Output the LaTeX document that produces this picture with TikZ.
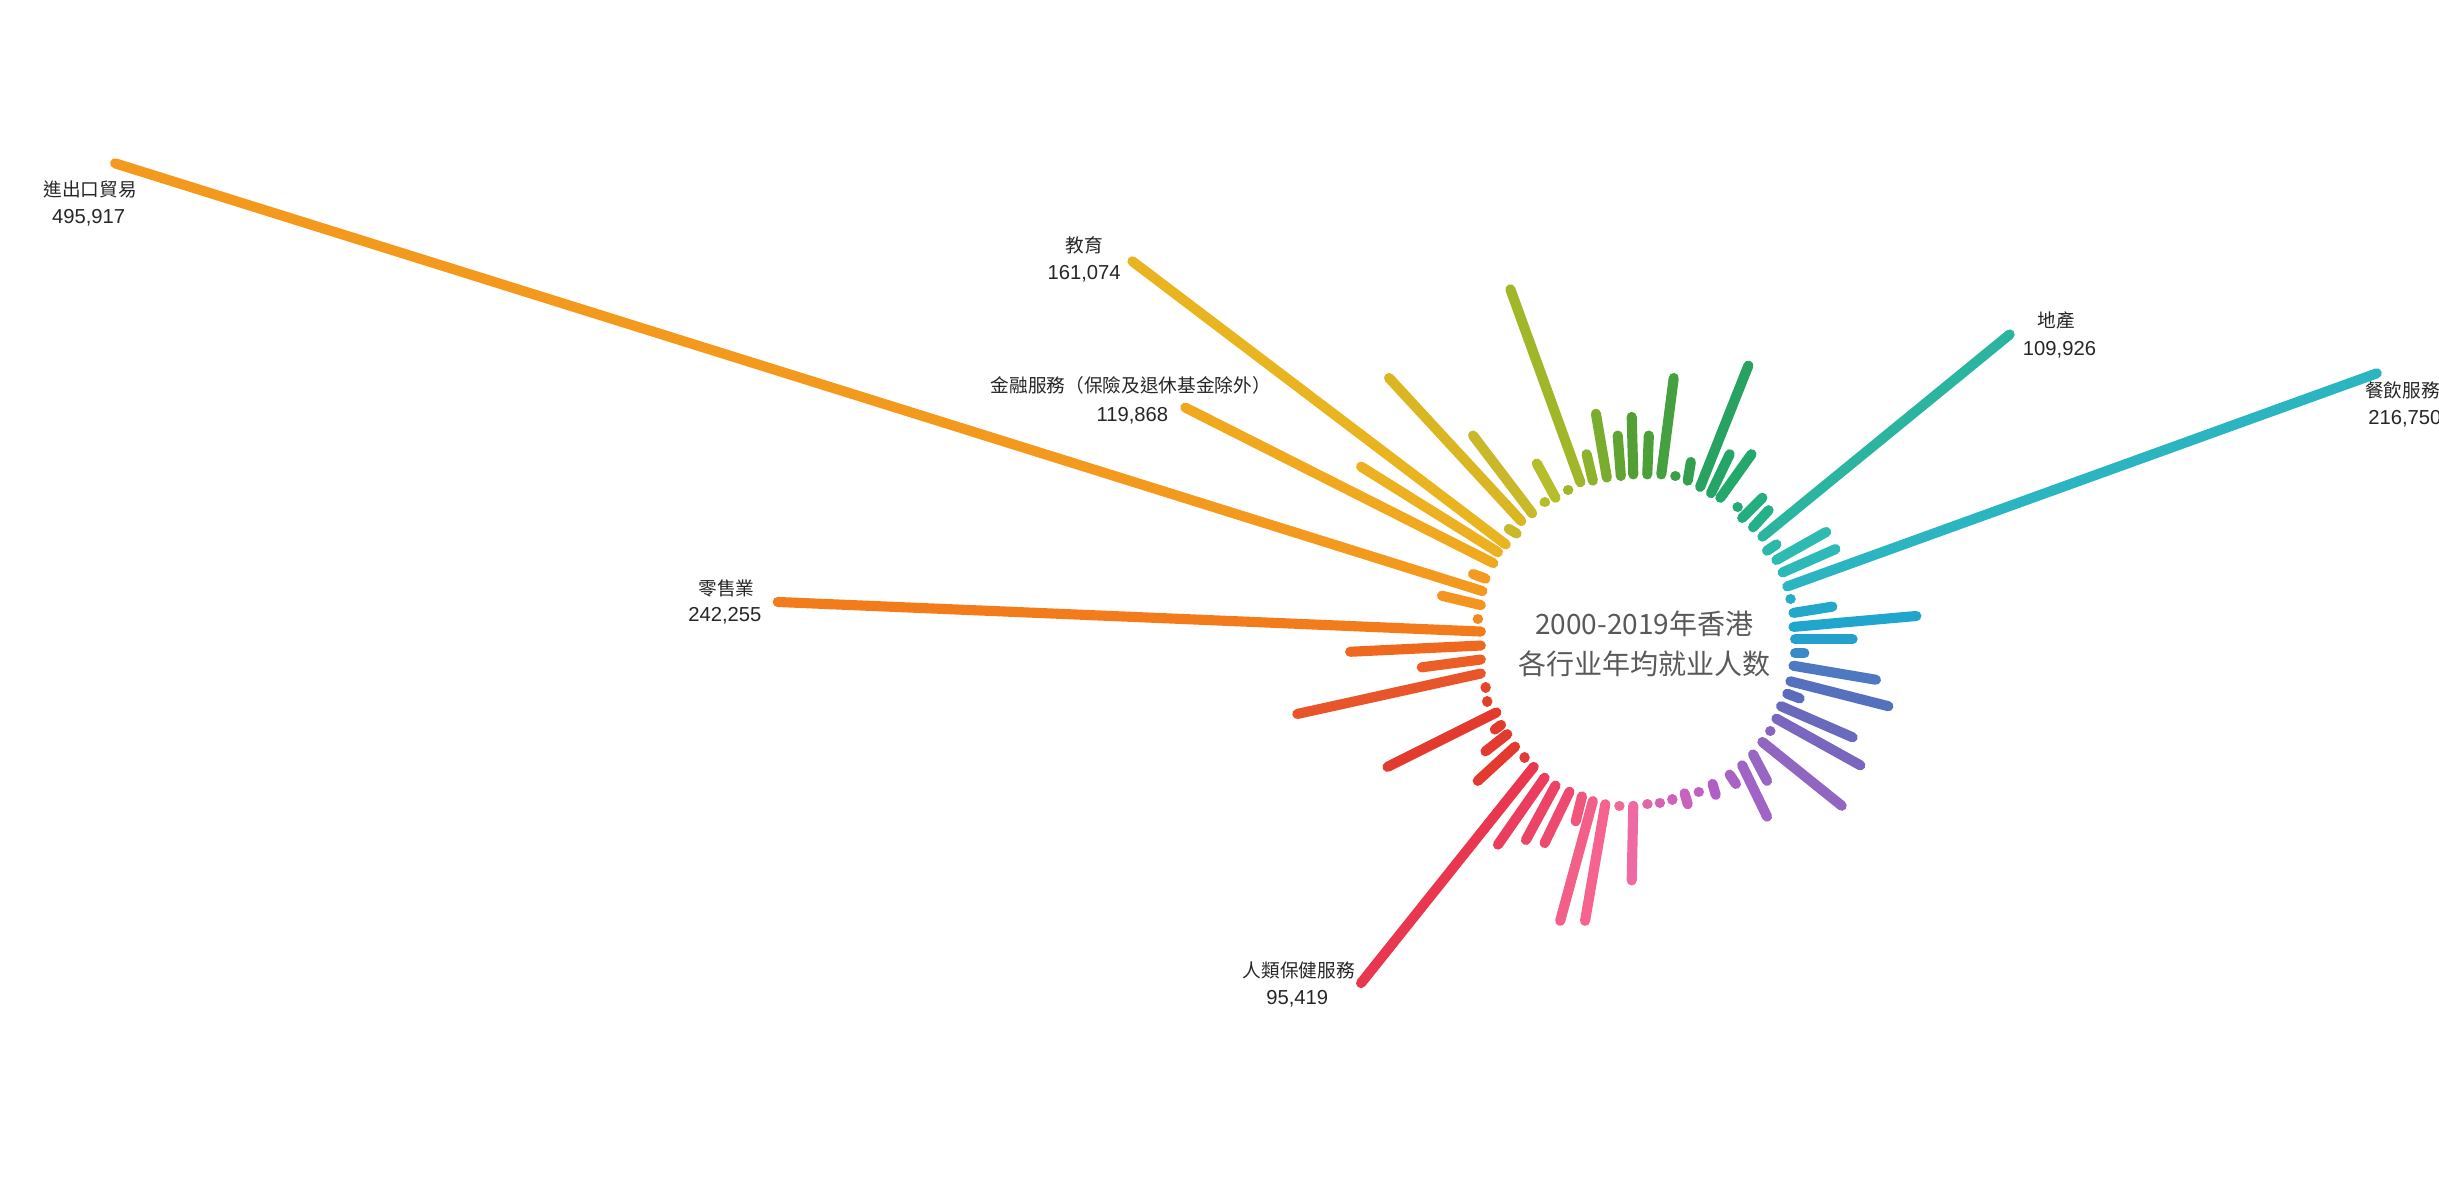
\documentclass[tikz,border=0pt]{standalone}
\usepackage{fontspec}
\setmainfont{Liberation Sans}
\newfontfamily\cjk{Noto Sans CJK TC}
\begin{document}
\begin{tikzpicture}[x=1pt,y=-1pt,
  bar/.style={line width=6.5pt,line cap=round},
  lab/.style={font=\cjk\fontsize{12}{14}\selectfont,text=black!85},
  num/.style={font=\fontsize{13}{15}\selectfont,text=black!85}]
\useasboundingbox (0,0) rectangle (1568,758);
\clip (0,0) rectangle (1568,758);
\foreach \xa/\ya/\xb/\yb/\c in {
74/105/953/380/F39A1E,
728/168/968/350/E8B520,
762/262/960/362/F0A81E,
893/243/978/335/D9B622,
875/300/963/355/EDB020,
947/280/985/330/C9B92A,
970/340/975/343/C9B92A,
988/298/1000/320/B5BD2A,
993/323/993.2/323/B5BD2A,
971/186/1016/310/A2B62A,
1008/315/1008.2/315/A2B62A,
1020/292/1024/309/8DB22C,
1026/266/1033/307/7AAD2E,
1040/280/1042/306/62A432,
1049/268/1050/305/52A035,
1060/280/1059/305/4CA038,
1076/243/1068/305/45A040,
1077/306/1077.2/306/3AA048,
1087/297/1085/309/33A050,
1124/235/1093/313/28A260,
1112/292/1100/317/25A565,
1126/292/1106/320/22A86A,
1117/326/1117.2/326/22AB75,
1133/320/1120/333/24AE80,
1137/328/1127/339/26B08A,
1292/215/1133/345/2BB5A0,
1142/350/1136/354/2CB8A8,
1174/342/1142/360/2DBAB0,
1180/353/1146/368/2DB9B8,
1528/240/1149/377/2BB5C0,
1151/385/1151.2/385/25AEC6,
1178/390/1153/394/22A8C8,
1232/396/1153/403/20A6CC,
1191/411/1154/411/23A0CC,
1160/420/1154/420/3A8AC8,
1206/437/1153/428/4E78C0,
1214/454/1151/438/5570BC,
1157/449/1149/446/5C6CBC,
1191/474/1145/454/6A6ABC,
1196/492/1142/462/7A66BE,
1138/470/1138.2/470/8A64C0,
1184/518/1133/477/9066C0,
1136/502/1127/485/9866C2,
1136/525/1120/492/A064C4,
1116/504/1112/498/A862C4,
1103/511/1101/504/B060C4,
1092/509/1092.2/509/C060C0,
1085/517/1083/510/C862BC,
1075/514/1075.2/514/D060B8,
1067/516/1067.2/516/D862B0,
1059/517/1059.2/517/E066A8,
1049/566/1050/518/EE6AA0,
1041/518/1041.2/518/F06A96,
1019/592/1032/517/F5638E,
1003/592/1024/515/F2608A,
1013/528/1017/512/F0557C,
993/542/1009/509/EE4A70,
981/540/1000/505/EC4466,
963/543/993/500/EB3E5E,
875/632/986/493/E9374F,
980/487/980.2/487/E53A3A,
950/502/974/480/E33A30,
955/483/969/472/E23A2E,
961/469/965/466/E23A2C,
892/493/962/458/E23A2C,
956/451/956.2/451/E3402B,
955/442/955.2/442/E5452A,
834/459/952/433/E8552A,
914/429/952/424/EB5E25,
868/419/952/415/EE6820,
500/387/952/406/F27C1C,
950/398/950.2/398/F48A1E,
927/383/952/389/F49520,
947/369/955/372/F49A20}
{\definecolor{tmp}{HTML}{\c}\draw[bar,tmp] (\xa,\ya) -- (\xb,\yb);}
\node[align=center,font=\cjk\fontsize{18}{26}\selectfont,text=black!65] (title) at (1057,414) {2000-2019年香港\\各行业年均就业人数};
\node[lab] (l1) at (58,122) {進出口貿易}; \node[num] (n1) at (57,140) {495,917};
\node[lab] (l2) at (697,158) {教育}; \node[num] (n2) at (697,176) {161,074};
\node[lab] (l3) at (727,248) {金融服務（保險及退休基金除外）}; \node[num] (n3) at (728,267) {119,868};
\node[lab] (l4) at (467,378) {零售業}; \node[num] (n4) at (466,396) {242,255};
\node[lab] (l5) at (1322,206) {地產}; \node[num] (n5) at (1324,225) {109,926};
\node[lab,anchor=west] (l6) at (1517,251) {餐飲服務}; \node[num,anchor=west] (n6) at (1519,269) {216,750};
\node[lab] (l7) at (835,624) {人類保健服務}; \node[num] (n7) at (834,642) {95,419};
\end{tikzpicture}
\end{document}
